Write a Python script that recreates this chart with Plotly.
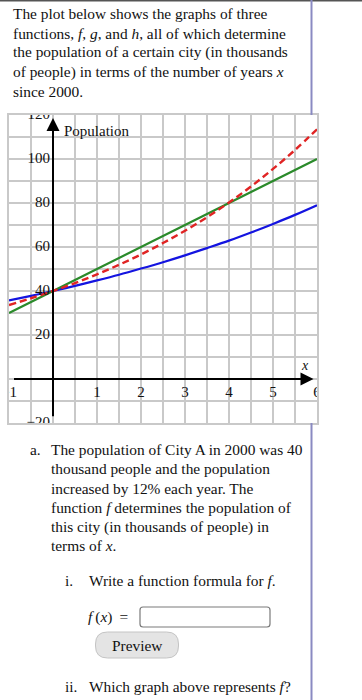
import plotly.graph_objects as go

W, H = 362, 700

# ---- data ----
years = [-1, -0.5, 0, 0.5, 1, 1.5, 2, 2.5, 3, 3.5, 4, 4.5, 5, 5.5, 6]
f_vals = [35.7, 37.8, 40, 42.3, 44.8, 47.4, 50.2, 53.1, 56.2, 59.5, 62.9, 66.6, 70.5, 74.6, 79.0]   # blue
h_vals = [33.6, 36.7, 40, 43.6, 47.6, 51.9, 56.6, 61.8, 67.4, 73.5, 80.2, 87.5, 95.5, 104.1, 113.5]  # red dashed
g_vals = [30, 35, 40, 45, 50, 55, 60, 65, 70, 75, 80, 85, 90, 95, 100]  # green

x_tick_vals = [-1, 1, 2, 3, 4, 5, 6]
x_tick_text = ["\u22121", "1", "2", "3", "4", "5", "6"]
y_tick_vals = [120, 100, 80, 60, 40, 20, -20]
y_tick_text = ["120", "100", "80", "60", "40", "20", "\u221220"]

intro_lines = [
    "The plot below shows the graphs of three",
    "functions, <i>f</i>, <i>g</i>, and <i>h</i>, all of which determine",
    "the population of a certain city (in thousands",
    "of people) in terms of the number of years <i>x</i>",
    "since 2000.",
]
part_a_lines = [
    "thousand people and the population",
    "increased by 12% each year. The",
    "function <i>f</i> determines the population of",
    "this city (in thousands of people) in",
    "terms of <i>x</i>.",
]

SERIF = "Liberation Serif, Times New Roman, serif"
FS = 15.4


def X(px):
    return px / W


def Y(py):
    return 1 - py / H


def rrect(x0, y0, x1, y1, r):
    pts = (
        f"M {X(x0 + r)},{Y(y0)} L {X(x1 - r)},{Y(y0)} Q {X(x1)},{Y(y0)} {X(x1)},{Y(y0 + r)} "
        f"L {X(x1)},{Y(y1 - r)} Q {X(x1)},{Y(y1)} {X(x1 - r)},{Y(y1)} "
        f"L {X(x0 + r)},{Y(y1)} Q {X(x0)},{Y(y1)} {X(x0)},{Y(y1 - r)} "
        f"L {X(x0)},{Y(y0 + r)} Q {X(x0)},{Y(y0)} {X(x0 + r)},{Y(y0)} Z"
    )
    return pts


fig = go.Figure()

fig.add_trace(go.Scatter(x=years, y=f_vals, mode="lines", line=dict(color="#1414e0", width=2.2, shape="spline"),
                         hoverinfo="skip", showlegend=False))
fig.add_trace(go.Scatter(x=years, y=g_vals, mode="lines", line=dict(color="#2a8a2a", width=2.2),
                         hoverinfo="skip", showlegend=False))
fig.add_trace(go.Scatter(x=years, y=h_vals, mode="lines",
                         line=dict(color="#e02424", width=2.4, dash="7px,4px", shape="spline"),
                         hoverinfo="skip", showlegend=False))

# tick labels (clipped to the plot area like in the reference)
fig.add_trace(go.Scatter(x=x_tick_vals, y=[-6.7] * len(x_tick_vals), mode="text", text=x_tick_text,
                         textfont=dict(family=SERIF, size=15, color="#111"), textposition="middle center",
                         cliponaxis=True, hoverinfo="skip", showlegend=False))
fig.add_trace(go.Scatter(x=[-0.07] * len(y_tick_vals), y=y_tick_vals, mode="text", text=y_tick_text,
                         textfont=dict(family=SERIF, size=15, color="#111"), textposition="middle left",
                         cliponaxis=True, hoverinfo="skip", showlegend=False))

fig.update_xaxes(range=[-1, 6], domain=[X(9), X(317)], dtick=0.5, tick0=0, showgrid=True,
                 gridcolor="#c9c9c9", gridwidth=1.5, zeroline=False, showticklabels=False, ticks="",
                 showline=True, mirror=True, linecolor="#c9c9c9", linewidth=1.5, fixedrange=True)
fig.update_yaxes(range=[-20, 120], domain=[Y(423), Y(115)], dtick=10, tick0=0, showgrid=True,
                 gridcolor="#c9c9c9", gridwidth=1.5, zeroline=False, showticklabels=False, ticks="",
                 showline=True, mirror=True, linecolor="#c9c9c9", linewidth=1.5, fixedrange=True)

ann = []
# axes with arrows
ann.append(dict(x=0, y=118.6, ax=0, ay=-17.6, xref="x", yref="y", axref="x", ayref="y", text="",
                showarrow=True, arrowhead=2, arrowsize=1.3, arrowwidth=2, arrowcolor="#000", standoff=0))
ann.append(dict(x=5.92, y=0, ax=-0.92, ay=0, xref="x", yref="y", axref="x", ayref="y", text="",
                showarrow=True, arrowhead=2, arrowsize=1.3, arrowwidth=2, arrowcolor="#000", standoff=0))
ann.append(dict(x=0.2, y=112.9, xref="x", yref="y", text="Population", showarrow=False, xanchor="left",
                yanchor="middle", font=dict(family=SERIF, size=15, color="#111")))
ann.append(dict(x=5.72, y=6, xref="x", yref="y", text="<i>x</i>", showarrow=False, xanchor="center",
                yanchor="middle", font=dict(family=SERIF, size=14, color="#111")))


def txt(px, py, t, anchor="left"):
    ann.append(dict(x=X(px), y=Y(py), xref="paper", yref="paper", text=t, showarrow=False,
                    xanchor=anchor, yanchor="middle", font=dict(family=SERIF, size=FS, color="#111")))


# intro text
intro_y = [13.3, 33.0, 52.5, 71.8, 91.0]
for t, py in zip(intro_lines, intro_y):
    txt(10.5, py, t)

txt(28, 449, "a.")
txt(49, 449, "The population of City A in 2000 was 40")
part_a_y = [468.5, 488, 507.5, 526.5, 545.5]
for t, py in zip(part_a_lines, part_a_y):
    txt(49, py, t)

txt(63, 580, "i.")
txt(87, 580, "Write a function formula for <i>f</i>.")
txt(86, 617, "<i>f</i>\u2009(<i>x</i>)\u2009 =")
txt(137, 645, "Preview", anchor="center")
txt(63, 686, "ii.")
txt(87, 686, "Which graph above represents <i>f</i>?")

shapes = [
    # page top border
    dict(type="line", xref="paper", yref="paper", x0=0, x1=1, y0=Y(0.7), y1=Y(0.7),
         line=dict(color="#555", width=1.5)),
    # right page border (hidden behind the chart)
    dict(type="line", xref="paper", yref="paper", x0=X(311.5), x1=X(311.5), y0=Y(0), y1=Y(115),
         line=dict(color="#8a8ac2", width=2)),
    dict(type="line", xref="paper", yref="paper", x0=X(311.5), x1=X(311.5), y0=Y(423), y1=Y(700),
         line=dict(color="#8a8ac2", width=2)),
    # input box
    dict(type="path", xref="paper", yref="paper", path=rrect(140, 607, 270, 627, 3),
         line=dict(color="#7a7a7a", width=1.2), fillcolor="#ffffff"),
    # preview button
    dict(type="path", xref="paper", yref="paper", path=rrect(95.5, 632, 178.5, 658, 12),
         line=dict(color="#c4c4c4", width=1), fillcolor="#e4e4e4"),
]

fig.update_layout(width=W, height=H, margin=dict(l=0, r=0, t=0, b=0), paper_bgcolor="#ffffff",
                  plot_bgcolor="#ffffff", annotations=ann, shapes=shapes, showlegend=False)

fig.write_html("out.html", config={"displayModeBar": False},
               post_script="document.body.style.margin='0';document.body.style.overflow='hidden';")
